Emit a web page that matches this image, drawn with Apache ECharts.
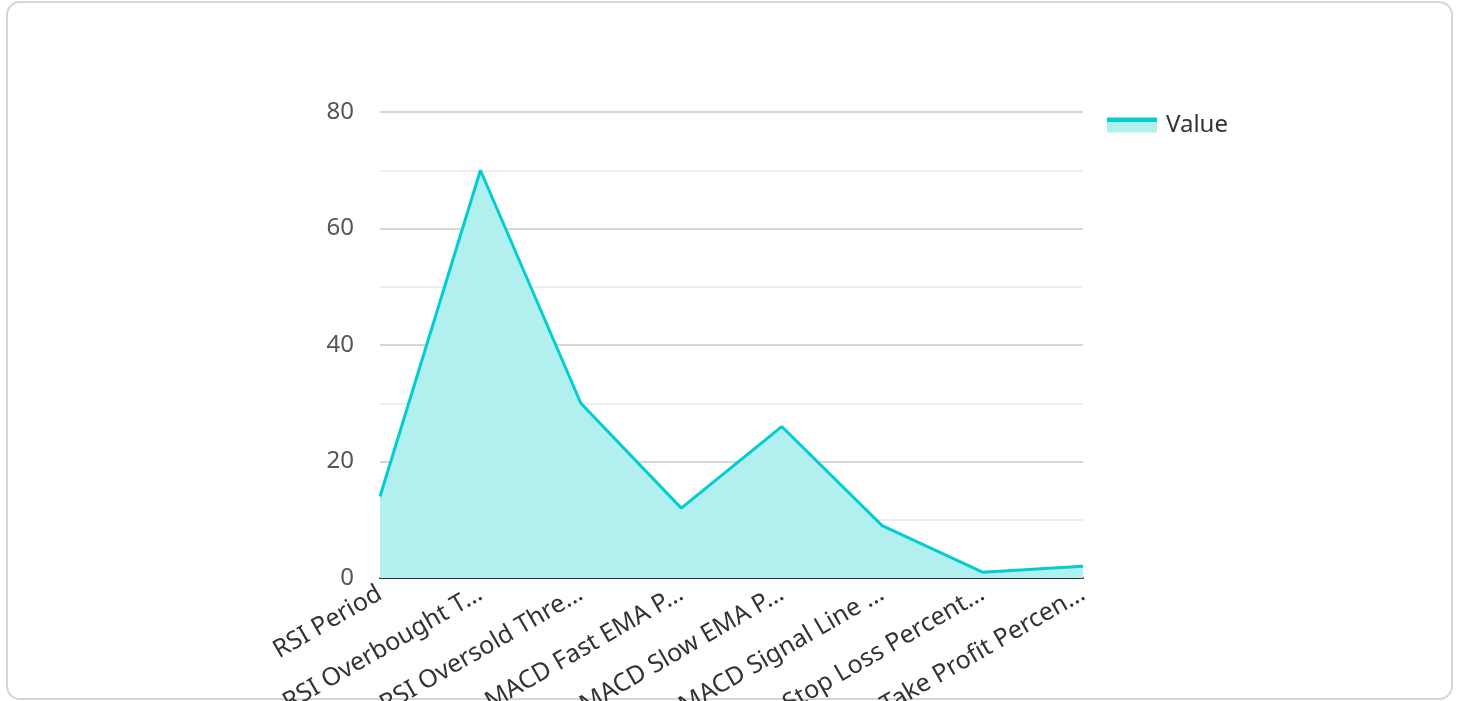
<!DOCTYPE html>
<html>
<head>
<meta charset="utf-8">
<title>Strategy parameters</title>
<script src="https://cdn.jsdelivr.net/npm/echarts@6/dist/echarts.min.js"></script>
<style>
  html, body { margin: 0; padding: 0; background: #fff; }
  .card {
    position: absolute; left: 6px; top: 1px; width: 1443px; height: 695px;
    border: 2px solid #d6d6d6; border-radius: 14px; box-sizing: content-box;
  }
  #main { position: absolute; left: 0; top: 0; width: 1458px; height: 701px; }
</style>
</head>
<body>
<div class="card"></div>
<div id="main"></div>
<script>
// chart data
const categories = ['RSI Period', 'RSI Overbought Threshold', 'RSI Oversold Threshold', 'MACD Fast EMA Period',
  'MACD Slow EMA Period', 'MACD Signal Line Period', 'Stop Loss Percentage', 'Take Profit Percentage'];
const values = [14, 70, 30, 12, 26, 9, 1, 2];
const yTicks = [0, 20, 40, 60, 80];
const seriesName = 'Value';

const lineColor = '#00ced1';
const areaColor = '#b2efef';

const chart = echarts.init(document.getElementById('main'));
chart.setOption({
  textStyle: { fontFamily: 'Noto Sans' },
  animation: false,
  legend: {
    data: [seriesName],
    left: 1102, top: 108,
    icon: 'rect',
    itemWidth: 50, itemHeight: 15, itemGap: 10,
    itemStyle: {
      // line on top, area below (like the line+area legend swatch)
      color: new echarts.graphic.LinearGradient(0, 0, 0, 1, [
        { offset: 0, color: lineColor }, { offset: 0.27, color: lineColor },
        { offset: 0.27, color: areaColor }, { offset: 1, color: areaColor }
      ])
    },
    textStyle: { fontSize: 24, color: '#333', fontFamily: 'Noto Sans', padding: [0, 0, 0, 4] }
  },
  grid: { left: 380, right: 375, top: 112, bottom: 123, containLabel: false, outerBoundsMode: 'none' },
  xAxis: {
    type: 'category',
    boundaryGap: false,
    data: categories,
    axisLine: { lineStyle: { color: '#333', width: 2 } },
    axisTick: { show: false },
    axisLabel: {
      rotate: 30, interval: 0, fontSize: 25, color: '#333', margin: 14,
      width: 236, overflow: 'truncate', ellipsis: '…'
    }
  },
  yAxis: {
    type: 'value',
    min: yTicks[0], max: yTicks[yTicks.length - 1], interval: 20,
    axisLine: { show: false },
    axisTick: { show: false },
    axisLabel: { fontSize: 24, color: '#555', margin: 26 },
    splitLine: { lineStyle: { color: '#c8c8c8', width: 1.5 } },
    minorTick: { show: false, splitNumber: 2 },
    minorSplitLine: { show: true, lineStyle: { color: '#e8e8e8', width: 1.5 } }
  },
  series: [{
    name: seriesName,
    type: 'line',
    data: values,
    symbol: 'none',
    lineStyle: { color: lineColor, width: 3 },
    itemStyle: { color: lineColor },
    areaStyle: { color: areaColor, opacity: 1, origin: 'start' }
  }]
});
window.onresize = function () {
  chart.resize();
};
</script>
</body>
</html>
